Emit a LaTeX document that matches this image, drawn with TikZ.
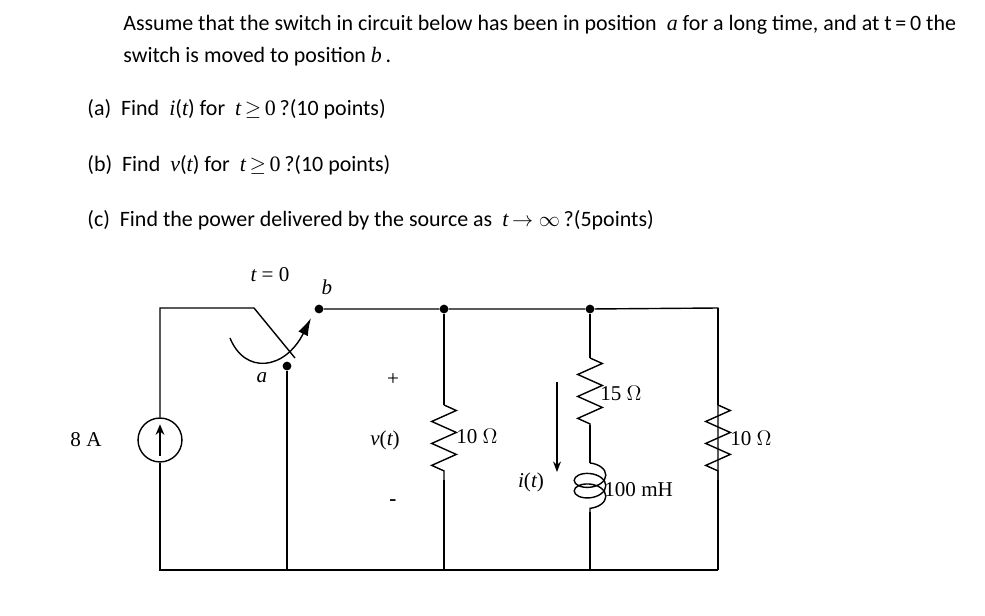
\documentclass[tikz,border=0pt]{standalone}
\usepackage{fontspec}
\setmainfont{Carlito}
\newfontfamily\tms{Liberation Serif}
\usetikzlibrary{arrows.meta,decorations.pathmorphing,calc}
\begin{document}
\begin{tikzpicture}[x=0.02cm,y=-0.02cm,
  txt/.style={anchor=west,inner sep=0,font=\fontsize{12.5}{14}\selectfont},
  lbl/.style={inner sep=0,font=\tms\fontsize{12}{14}\selectfont},
  wire/.style={line width=0.8pt},
  dotn/.style={circle,fill,inner sep=0,minimum size=5pt},
  res/.style={wire,decorate,decoration={zigzag,segment length=12.5,amplitude=7}},
  ind/.style={wire,decorate,decoration={coil,aspect=0.6,segment length=6,amplitude=9}}]
\useasboundingbox (0,0) rectangle (985,616);
\node[txt] (t1) at (123,25) {Assume that the switch in circuit below has been in position \ {\tms\itshape a} for a long time, and at t\,=\,0 the};
\node[txt] (t2) at (123,57) {switch is moved to position {\tms\itshape b}\,.};
\node[txt] (t3) at (87,109) {(a)\ \ Find \ {\tms\itshape i}({\tms\itshape t}) for \ {\tms\itshape t}\,$\geq$\,{\tms 0}\,?(10 points)};
\node[txt] (t4) at (87,165) {(b)\ \ Find \ {\tms\itshape v}({\tms\itshape t}) for \ {\tms\itshape t}\,$\geq$\,{\tms 0}\,?(10 points)};
\node[txt] (t5) at (87,220) {(c)\ \ Find the power delivered by the source as \ {\tms\itshape t}\,$\rightarrow\infty$\,?(5points)};
% coordinates
\coordinate (tl) at (160,308);
\coordinate (piv) at (254,308);
\coordinate (bl) at (160,570);
\coordinate (br) at (718,570);
\coordinate (tr) at (718,308);
\node[dotn] (b) at (319,309) {};
\node[dotn] (a) at (287,366) {};
\node[dotn] (n1) at (444,309) {};
\node[dotn] (n2) at (590,309) {};
\coordinate (ab) at (287,570);
\coordinate (n1b) at (444,570);
\coordinate (n2b) at (590,570);
% source
\node[circle,draw,line width=0.8pt,minimum size=25pt,inner sep=0] (src) at (160,440) {};
\draw[wire] (src.north) -- (tl) -- (piv) -- (295,358);
\draw[wire] (src.south) -- (bl) -- (ab) -- (n1b) -- (n2b) -- (br);
\draw[wire,-{Stealth[length=6pt,width=5pt]}] ($(src.south)+(0,-7)$) -- ($(src.north)+(0,7)$);
\draw[wire] (a) -- (ab);
\draw[wire] (b) -- (n1) -- (n2) -- (tr) -- (br);
\draw[wire,-{Latex[length=10pt,width=6pt]}] (230,338) .. controls (245,375) and (285,370) .. (311,318);
% 10 ohm
\draw[wire] (n1) -- (444,405);
\draw[res] (444,405) -- (444,480);
\draw[wire] (444,480) -- (n1b);
% 15 ohm + L
\draw[wire] (n2) -- (590,358);
\draw[res] (590,358) -- (590,425);
\draw[wire] (590,425) -- (590,463);
\draw[ind] (590,463) -- (590,512);
\draw[wire] (590,512) -- (n2b);
% right 10 ohm
\draw[wire] (tr) -- (718,405);
\draw[res] (718,405) -- (718,480);
\draw[wire] (718,480) -- (br);
% arrow i(t)
\coordinate (ia) at (557,382);
\coordinate (ib) at (557,472);
\draw[wire,-{Stealth[length=6pt]}] (ia) -- (ib);
% labels
\node[lbl] (l8) at (86,440) {8 A};
\node[lbl] (lt0) at (270,275) {\itshape t\upshape\ = 0};
\node[lbl] (lb) at (327,287) {\itshape b};
\node[lbl] (la) at (262,378) {\itshape a};
\node[lbl] (lp) at (393,380) {+};
\node[lbl] (lv) at (385,440) {\itshape v\upshape(\itshape t\upshape)};
\node[lbl] (lm) at (393,503) {\textbf{-}};
\node[lbl,anchor=west] (r1) at (456,436) {10 $\Omega$};
\node[lbl,anchor=west] (r2) at (600,393) {15 $\Omega$};
\node[lbl,anchor=west] (r3) at (604,490) {100 mH};
\node[lbl,anchor=west] (r4) at (730,438) {10 $\Omega$};
\node[lbl] (li) at (531,482) {\itshape i\upshape(\itshape t\upshape)};
\end{tikzpicture}
\end{document}
